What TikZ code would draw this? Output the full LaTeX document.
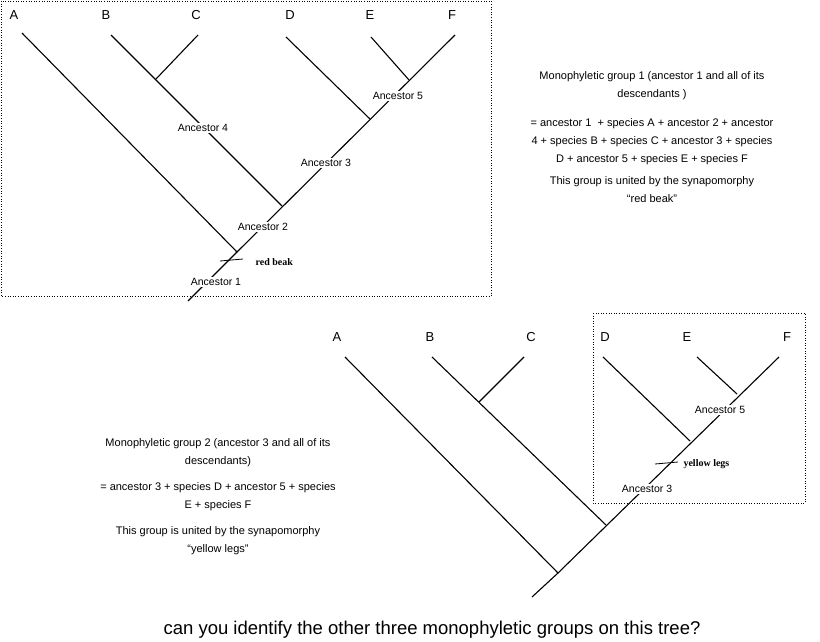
\documentclass[tikz,border=0pt]{standalone}
\usepackage{fontspec}
\setmainfont{Liberation Sans}
\newfontfamily\serifb{Liberation Serif}
\begin{document}
\begin{tikzpicture}[x=1pt,y=-1pt,line width=1.1pt]
\tikzstyle{tip}=[font=\fontsize{13}{13}\selectfont,inner sep=1pt]
\tikzstyle{anc}=[font=\fontsize{10.5}{10.5}\selectfont,fill=white,inner sep=1pt]
\tikzstyle{trait}=[font=\serifb\bfseries\fontsize{10}{10}\selectfont,inner sep=1pt]
\tikzstyle{para}=[font=\fontsize{11}{18}\selectfont,align=center]
\tikzstyle{box}=[dotted,line width=0.6pt]
\useasboundingbox (0,0) rectangle (820,642);

% Top tree
\draw[box] (1,1) rectangle (491,296);
\foreach \name / \x in {A/14,B/106,C/196,D/290,E/370,F/452}
\node[tip] (t-\name) at (\x,15) {\name};
\coordinate (tA) at (22,33);
\coordinate (tB) at (111,35);
\coordinate (tC) at (198,35);
\coordinate (tD) at (286,37);
\coordinate (tE) at (371,37);
\coordinate (tF) at (455,35);
\coordinate (r1) at (237,252);
\coordinate (r2) at (282,206);
\coordinate (r4) at (156,79);
\coordinate (r3) at (370,119);
\coordinate (r5) at (409,80);
\coordinate (r0) at (188,301);
\draw (tA) -- (r1) -- (tF);
\draw (tB) -- (r2);
\draw (tC) -- (r4);
\draw (tD) -- (r3);
\draw (tE) -- (r5);
\draw (r1) -- (r0);
\coordinate (m1) at (220,261);
\coordinate (m2) at (243,259);
\draw[line width=0.8pt] (m1) -- (m2);
\node[trait,anchor=west] (beak) at (254,262) {red beak};
\node[anc] (a1) at (216,282) {Ancestor 1};
\node[anc] (a2) at (263,227) {Ancestor 2};
\node[anc] (a3) at (326,163) {Ancestor 3};
\node[anc] (a4) at (203,128) {Ancestor 4};
\node[anc] (a5) at (398,96) {Ancestor 5};
\node[para] (txt1) at (652,137) {Monophyletic group 1 (ancestor 1 and all of its\\descendants )\\[11pt]= ancestor 1\ \ + species A + ancestor 2 + ancestor\\4 + species B + species C + ancestor 3 + species\\D + ancestor 5 + species E + species F\\[4pt]This group is united by the synapomorphy\\``red beak''};

% Bottom tree
\draw[box] (593,313) rectangle (805,503);
\foreach \name / \x in {A/337,B/430,C/531,D/605,E/687,F/787}
\node[tip] (b-\name) at (\x,337) {\name};
\coordinate (bA) at (345,357);
\coordinate (bB) at (432,357);
\coordinate (bC) at (524,357);
\coordinate (bD) at (603,357);
\coordinate (bE) at (697,357);
\coordinate (bF) at (779,357);
\coordinate (s1) at (558,573);
\coordinate (s2) at (606,525);
\coordinate (s4) at (479,402);
\coordinate (s3) at (690,441);
\coordinate (s5) at (737,394);
\coordinate (s0) at (532,597);
\draw (bA) -- (s1) -- (bF);
\draw (bB) -- (s2);
\draw (bC) -- (s4);
\draw (bD) -- (s3);
\draw (bE) -- (s5);
\draw (s1) -- (s0);
\coordinate (n1) at (655,464);
\coordinate (n2) at (678,462);
\draw[line width=0.8pt] (n1) -- (n2);
\node[trait,anchor=west] (legs) at (682,464) {yellow legs};
\node[anc] (b3) at (647,489) {Ancestor 3};
\node[anc] (b5) at (720,410) {Ancestor 5};
\node[para] (txt2) at (218,497) {Monophyletic group 2 (ancestor 3 and all of its\\descendants)\\[8pt]= ancestor 3 + species D + ancestor 5 + species\\E + species F\\[8pt]This group is united by the synapomorphy\\``yellow legs''};
\node[font=\fontsize{18.5}{18.5}\selectfont] (q) at (432,630) {can you identify the other three monophyletic groups on this tree?};
\end{tikzpicture}
\end{document}
